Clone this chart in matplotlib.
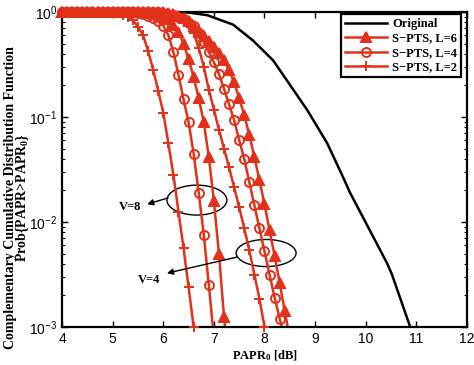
import numpy as np
import matplotlib
matplotlib.use('Agg')
from matplotlib import pyplot as plt
from matplotlib.patches import Ellipse

# PAPR0 grid in dB (0.1 dB steps)
papr_db = [4.0, 4.1, 4.2, 4.3, 4.4, 4.5, 4.6, 4.7, 4.8, 4.9,
           5.0, 5.1, 5.2, 5.3, 5.4, 5.5, 5.6, 5.7, 5.8, 5.9,
           6.0, 6.1, 6.2, 6.3, 6.4, 6.5, 6.6, 6.7, 6.8, 6.9,
           7.0, 7.1, 7.2, 7.3, 7.4, 7.5, 7.6, 7.7, 7.8, 7.9,
           8.0, 8.1, 8.2, 8.3, 8.4, 8.5]

# log10 of CCDF
l2_v8 = [0, 0, 0, 0, 0, 0, 0, 0, 0, 0,
         -0.005, -0.01, -0.03, -0.05, -0.08, -0.14, -0.22, -0.37, -0.55, -0.75,
         -0.96, -1.25, -1.55, -1.9, -2.25, -2.62, -3.0]
l4_v8 = [0, 0, 0, 0, 0, 0, 0, 0, 0, 0,
         0, 0, 0, 0, 0, -0.01, -0.02, -0.04, -0.06, -0.09,
         -0.13, -0.22, -0.38, -0.6, -0.83, -1.05, -1.35, -1.72, -2.12, -2.6,
         -3.1]
l6_v8 = [0, 0, 0, 0, 0, 0, 0, 0, 0, 0,
         0, 0, 0, 0, 0, 0, 0, 0, -0.01, -0.02,
         -0.04, -0.07, -0.12, -0.19, -0.3, -0.45, -0.62, -0.82, -1.05, -1.38,
         -1.8, -2.3, -2.9, -3.4]
l2_v4 = [0, 0, 0, 0, 0, 0, 0, 0, 0, 0,
         0, 0, 0, 0, 0, 0, 0, 0, 0, -0.01,
         -0.015, -0.025, -0.04, -0.06, -0.09, -0.12, -0.2, -0.34, -0.52, -0.74,
         -0.93, -1.12, -1.3, -1.48, -1.67, -1.86, -2.06, -2.27, -2.5, -2.73,
         -3.0]
l4_v4 = [0, 0, 0, 0, 0, 0, 0, 0, 0, 0,
         0, 0, 0, 0, 0, 0, 0, 0, 0, 0,
         -0.01, -0.02, -0.03, -0.05, -0.07, -0.1, -0.13, -0.2, -0.29, -0.38,
         -0.48, -0.59, -0.73, -0.88, -1.03, -1.22, -1.4, -1.62, -1.84, -2.06,
         -2.28, -2.5, -2.72, -2.92, -3.1]
l6_v4 = [0, 0, 0, 0, 0, 0, 0, 0, 0, 0,
         0, 0, 0, 0, 0, 0, 0, 0, 0, 0,
         0, -0.01, -0.02, -0.04, -0.06, -0.09, -0.13, -0.18, -0.23, -0.28,
         -0.33, -0.39, -0.46, -0.55, -0.67, -0.82, -0.98, -1.17, -1.38, -1.6,
         -1.83, -2.08, -2.32, -2.58, -2.85, -3.1]

orig_db = [4.0, 6.0, 6.5, 6.87, 7.38, 7.77, 8.17, 8.84, 9.24, 9.55, 9.69,
           10.05, 10.42, 10.52, 10.88, 11.0]
orig_log = [0, 0, -0.005, -0.03, -0.12, -0.27, -0.46, -0.93, -1.25, -1.57, -1.72,
            -2.05, -2.39, -2.5, -3.0, -3.2]

red = '#e2311a'
serif = ['Liberation Serif', 'DejaVu Serif']
plt.rcParams['font.family'] = ['Liberation Sans', 'DejaVu Sans']
plt.rcParams['mathtext.fontset'] = 'custom'
plt.rcParams['mathtext.rm'] = 'Liberation Serif:bold'
plt.rcParams['mathtext.it'] = 'Liberation Serif:bold'
plt.rcParams['mathtext.bf'] = 'Liberation Serif:bold'

fig = plt.figure(figsize=(4.74, 3.65), dpi=100)
ax = fig.add_axes([0.131, 0.104, 0.854, 0.863])

ax.semilogy(orig_db, 10.0 ** np.array(orig_log), color='k', lw=1.8, label='Original')


def curve(ylog, marker, label=None, mfc=red):
    y = 10.0 ** np.array(ylog)
    x = np.array(papr_db[:len(ylog)])
    ax.semilogy(x, y, color=red, lw=1.8)
    keep = y >= 1e-3
    ax.semilogy(x[keep], y[keep], ls='none', marker=marker, ms=6.5, mfc=mfc,
                mec=red, mew=1.4, clip_on=False, zorder=3)
    if label:
        ax.semilogy([], [], color=red, lw=1.8, marker=marker, ms=6.5, mfc=mfc,
                    mec=red, mew=1.4, label=label)


curve(l6_v8, '^', 'S\u2212PTS, L=6')
curve(l4_v8, 'o', 'S\u2212PTS, L=4', mfc='none')
curve(l2_v8, '+', 'S\u2212PTS, L=2')
curve(l6_v4, '^')
curve(l4_v4, 'o', mfc='none')
curve(l2_v4, '+')

ax.set_xlim(4, 12)
ax.set_ylim(1e-3, 1)
ax.set_xticks([4, 5, 6, 7, 8, 9, 10, 11, 12])
ax.tick_params(which='both', direction='in', top=True, right=True, labelsize=10)
ax.tick_params(which='major', length=4, width=1)
ax.tick_params(which='minor', length=2, width=0.8)
for s in ax.spines.values():
    s.set_linewidth(1.6)

ax.set_xlabel('PAPR$_0$ [dB]', fontsize=9, fontweight='bold', family=serif, labelpad=2)
ax.set_ylabel('Complementary Cumulative Distribution Function\nProb{PAPR>PAPR$_0$}',
              fontsize=10, fontweight='bold', family=serif, linespacing=0.8)
ax.yaxis.set_label_coords(-0.077, 0.41)

leg = ax.legend(loc='upper right', bbox_to_anchor=(0.985, 0.993), borderaxespad=0,
                fancybox=False, framealpha=1, edgecolor='k', handlelength=3.4,
                prop={'family': serif, 'weight': 'bold', 'size': 9},
                borderpad=0.3, labelspacing=0.2, handletextpad=0.4)
leg.get_frame().set_linewidth(1.6)

# ellipses and arrows for V=8 / V=4 groups
ax.add_patch(Ellipse((0.333, 0.403), 0.148, 0.095, transform=ax.transAxes,
                     fill=False, ec='k', lw=1))
ax.add_patch(Ellipse((0.504, 0.235), 0.148, 0.086, transform=ax.transAxes,
                     fill=False, ec='k', lw=1))
arrow = dict(arrowstyle='-|>', color='k', lw=1, mutation_scale=9, shrinkA=0, shrinkB=0)
ax.annotate('', xy=(0.210, 0.390), xytext=(0.262, 0.410), xycoords='axes fraction',
            arrowprops=arrow)
ax.annotate('', xy=(0.259, 0.171), xytext=(0.432, 0.222), xycoords='axes fraction',
            arrowprops=arrow)
ax.text(0.168, 0.381, 'V=8', transform=ax.transAxes, ha='center', va='center',
        fontsize=9, fontweight='bold', family=serif)
ax.text(0.215, 0.149, 'V=4', transform=ax.transAxes, ha='center', va='center',
        fontsize=9, fontweight='bold', family=serif)

fig.savefig('out.png', dpi=100)
